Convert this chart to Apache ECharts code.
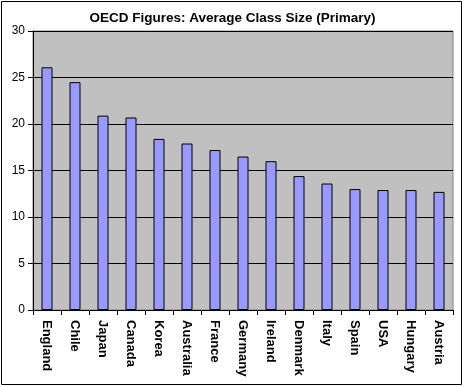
<!DOCTYPE html>
<html>
<head>
<meta charset="utf-8">
<script src="https://cdn.jsdelivr.net/npm/echarts@6/dist/echarts.min.js"></script>
<style>
    html, body { margin: 0; padding: 0; background: #fff; }
    #chart { width: 465px; height: 387px; }
</style>
</head>
<body>
<div id="chart"></div>
<script>
// 数据
const countries = ['England', 'Chile', 'Japan', 'Canada', 'Korea', 'Australia', 'France', 'Germany',
    'Ireland', 'Denmark', 'Italy', 'Spain', 'USA', 'Hungary', 'Austria'];
const classSize = [26.1, 24.5, 20.9, 20.7, 18.4, 17.9, 17.2, 16.5, 16.0, 14.4, 13.6, 13.0, 12.9, 12.9, 12.7];
const yTicks = [0, 5, 10, 15, 20, 25, 30];

const chart = echarts.init(document.getElementById('chart'));

const option = {
    animation: false,
    backgroundColor: '#fff',
    textStyle: { fontFamily: '"Liberation Sans", Arial, sans-serif' },
    title: {
        text: 'OECD Figures: Average Class Size (Primary)',
        left: 'center',
        top: 6,
        textStyle: { fontSize: 13.5, fontWeight: 'bold', color: '#000' }
    },
    graphic: [{
        type: 'rect',
        shape: { x: 1.5, y: 1.5, width: 460, height: 383 },
        style: { fill: 'none', stroke: '#000', lineWidth: 1 },
        silent: true
    }],
    grid: {
        left: 33, right: 12, top: 31, bottom: 77,
        show: true,
        backgroundColor: '#C0C0C0',
        borderColor: '#808080',
        borderWidth: 1
    },
    xAxis: {
        type: 'category',
        data: countries,
        axisLine: { show: true, lineStyle: { color: '#000' } },
        axisTick: { show: true, alignWithLabel: false, length: 5, lineStyle: { color: '#000' } },
        axisLabel: {
            rotate: -90,
            interval: 0,
            margin: 10,
            color: '#000',
            fontSize: 13,
            fontWeight: 'bold'
        }
    },
    yAxis: {
        type: 'value',
        min: yTicks[0],
        max: yTicks[yTicks.length - 1],
        interval: 5,
        axisLine: { show: true, lineStyle: { color: '#000' } },
        axisTick: { show: true, length: 5, lineStyle: { color: '#000' } },
        axisLabel: { color: '#000', fontSize: 12, margin: 8 },
        splitLine: { show: true, lineStyle: { color: '#000', width: 1 } }
    },
    series: [{
        type: 'bar',
        data: classSize,
        barWidth: 11,
        itemStyle: { color: '#9999FF', borderColor: '#000', borderWidth: 1 }
    }]
};

chart.setOption(option);
</script>
</body>
</html>
